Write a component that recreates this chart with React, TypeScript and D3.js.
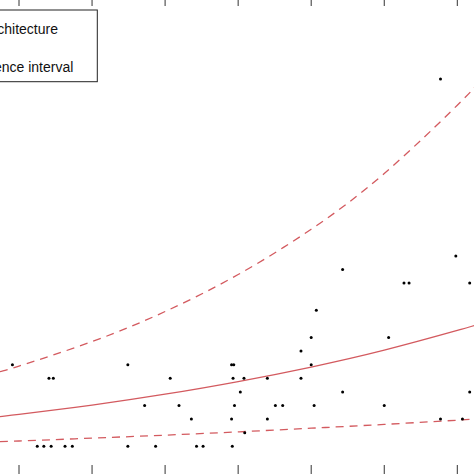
import React from "react";
import * as d3 from "d3";

// point data (predictor, count)
const pointX = [
  -0.09, 0.41, 0.47, 0.25, 0.34, 0.44, 0.63, 0.73, 1.49, 2.07, 1.72, 2.19, 2.36, 1.49, 1.87,
  2.43, 2.52, 2.91, 2.94, 2.93, 2.95, 2.91, 2.92, 3.03, 3.08, 3.09, 3.40, 3.40, 3.51, 3.61,
  3.86, 3.86, 4.00, 4.00, 4.04, 4.07, 4.43, 4.43, 5.00, 5.06, 5.27, 5.34, 5.77, 5.98, 6.07,
  6.17, 6.17, 5.77,
];
const pointY = [
  8, 7, 7, 2, 2, 2, 2, 2, 8, 7, 5, 5, 4, 2, 2,
  2, 2, 8, 8, 7, 5, 4, 2, 6, 7, 3, 7, 4, 5, 5,
  9, 7, 10, 8, 5, 12, 6, 15, 5, 10, 14, 14, 4, 16, 4,
  14, 6, 29,
];

// fitted curve read at sample positions
const curveX = [-0.26, 0, 1, 2, 3, 4, 5, 6, 6.23];
const fitted = [4.18, 4.34, 5.03, 5.83, 6.76, 7.83, 9.07, 10.52, 10.88];
const upperCI = [7.49, 7.9, 9.7, 11.91, 14.63, 17.96, 22.06, 27.08, 28.39];
const lowerCI = [2.34, 2.39, 2.6, 2.82, 3.06, 3.33, 3.61, 3.92, 4.0];

const xTicks = [0, 1, 2, 3, 4, 5, 6];
const legendLabels = ["Fitted architecture", "95% confidence interval"];

export default function App() {
  const W = 474;
  const H = 474;
  const x = d3.scaleLinear().domain([0, 6]).range([19, 457.3]);
  const y = d3.scaleLinear().domain([0, 30]).range([473.5, 473.5 - 13.6 * 30]);

  const line = (vals: number[]) =>
    d3
      .line<number>()
      .x((_, i) => x(curveX[i]))
      .y((d) => y(d))
      .curve(d3.curveNatural)(vals) as string;

  const red = "#d35a5f";

  return (
    <svg
      width={W}
      height={H}
      style={{ position: "fixed", left: 0, top: 0, background: "#fff" }}
      fontFamily="'Liberation Sans', Arial, sans-serif"
    >
      <rect x={0} y={0} width={W} height={H} fill="#fff" />
      {xTicks.map((t) => (
        <g key={t}>
          <line x1={x(t)} x2={x(t)} y1={0} y2={6} stroke="#333" strokeWidth={1} />
          <line x1={x(t)} x2={x(t)} y1={465} y2={474} stroke="#333" strokeWidth={1} />
        </g>
      ))}
      <path d={line(fitted)} fill="none" stroke={red} strokeWidth={1.3} />
      <path d={line(upperCI)} fill="none" stroke={red} strokeWidth={1.3} strokeDasharray="8,6" />
      <path d={line(lowerCI)} fill="none" stroke={red} strokeWidth={1.3} strokeDasharray="8,6" />
      {pointX.map((px, i) => (
        <circle key={i} cx={x(px)} cy={y(pointY[i])} r={1.5} fill="#000" />
      ))}
      <rect x={-60} y={10} width={157.3} height={71.7} fill="#fff" stroke="#222" strokeWidth={1} />
      <text x={58} y={33.5} fontSize={14} textAnchor="end" fill="#111">
        {legendLabels[0]}
      </text>
      <text x={73.3} y={71.5} fontSize={14} textAnchor="end" fill="#111">
        {legendLabels[1]}
      </text>
    </svg>
  );
}
